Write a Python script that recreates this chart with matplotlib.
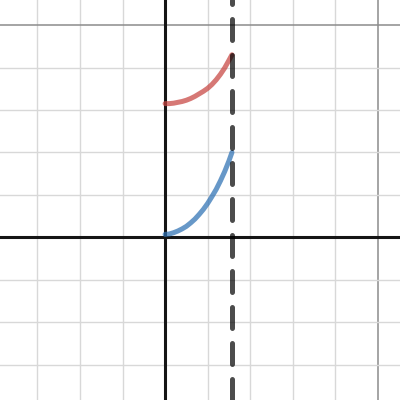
import matplotlib.pyplot as plt
import numpy as np

# ── Data ───────────────────────────────────────────────────
x_pts = [0.0, 0.1, 0.2, 0.3, 0.4, 0.5, 0.6, 0.7, 0.8, 0.9,
         1.0, 1.1, 1.2, 1.3, 1.4, 1.5, 1.5708]
blue_y = [0.07, 0.08, 0.11, 0.15, 0.20, 0.26, 0.34, 0.43, 0.54, 0.66,
          0.80, 0.96, 1.13, 1.33, 1.55, 1.80, 2.00]
red_y = [3.15, 3.15, 3.16, 3.18, 3.20, 3.23, 3.27, 3.32, 3.38, 3.44,
         3.51, 3.60, 3.71, 3.84, 3.99, 4.17, 4.30]
boundary_x = 1.5708

x_range = (-3.88, 5.52)
y_range = (-3.83, 5.59)

# ── Figure ─────────────────────────────────────────────────
fig = plt.figure(figsize=(4, 4), dpi=100)
ax = fig.add_axes([0, 0, 1, 1])
ax.set_xlim(*x_range)
ax.set_ylim(*y_range)
ax.axis('off')

# grid: minor every 1, major every 5
for gx in range(-3, 6):
    if gx == 0:
        continue
    major = gx % 5 == 0
    ax.axvline(gx, color='#8c8c8c' if major else '#d8d8d8',
               lw=1.1 if major else 1.0, zorder=0)
for gy in range(-3, 6):
    if gy == 0:
        continue
    major = gy % 5 == 0
    ax.axhline(gy, color='#8c8c8c' if major else '#d8d8d8',
               lw=1.1 if major else 1.0, zorder=0)

# axes
ax.axhline(0, color='#151515', lw=2.2, zorder=1)
ax.axvline(0, color='#151515', lw=2.2, zorder=1)

# curves
ax.plot(x_pts, blue_y, color='#2d70b3', alpha=0.72, lw=3.6,
        solid_capstyle='round', solid_joinstyle='round', zorder=3)
ax.plot(x_pts, red_y, color='#c74440', alpha=0.72, lw=3.6,
        solid_capstyle='round', solid_joinstyle='round', zorder=3)

# vertical dashed boundary
vl = ax.axvline(boundary_x, color='#000000', alpha=0.7, lw=3.6,
                dash_capstyle='round', zorder=4)
vl.set_dashes((4.2, 3.0))

fig.savefig('out.png', dpi=100, facecolor='white')
